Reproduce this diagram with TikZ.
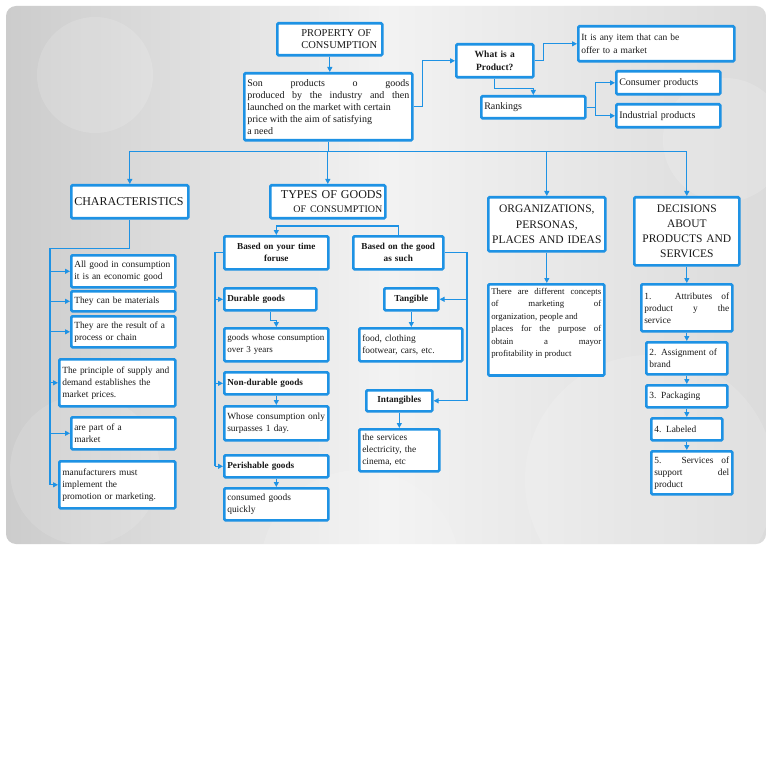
\documentclass[tikz,border=0pt]{standalone}
\usepackage{fontspec}
\setmainfont{Liberation Serif}
\usetikzlibrary{arrows.meta,shadows,calc}
\definecolor{bblue}{RGB}{30,146,228}
\definecolor{txt}{RGB}{25,25,25}
\newcommand\fsz[2]{\fontsize{#1}{#2}\selectfont}
\tikzset{
  box/.style={draw=bblue, line width=2.6pt, fill=white, rounded corners=1.2pt,
    inner xsep=3pt, inner ysep=2pt, anchor=north west, align=left, text=txt,
    font=\fsz{9.4}{12},
    drop shadow={opacity=0.22, shadow xshift=0.9pt, shadow yshift=-0.9pt}},
  conn/.style={draw=bblue, line width=1.1pt},
  arr/.style={conn, -{Triangle[length=5pt,width=5pt]}},
  bld/.style={font=\bfseries\fsz{9.2}{12}},
}
\begin{document}
\begin{tikzpicture}[x=1pt,y=-1pt]
\path[use as bounding box] (0,0) rectangle (768,762);
\fill[white] (0,0) rectangle (768,762);
\shade[rounded corners=10pt, left color=gray!40, right color=gray!28, middle color=gray!10] (6,6) rectangle (766,544);
\begin{scope}
  \clip[rounded corners=10pt] (6,6) rectangle (766,544);
  \fill[white,opacity=0.14] (95,75) circle[radius=58pt];
  \fill[white,opacity=0.16] (725,140) circle[radius=62pt];
  \fill[white,opacity=0.14] (650,480) circle[radius=125pt];
  \fill[white,opacity=0.12] (85,470) circle[radius=75pt];
  \fill[white,opacity=0.12] (360,570) circle[radius=100pt];
\end{scope}

% ---------- top ----------
\node[box, minimum width=105pt, minimum height=32pt, text width=99pt, font=\fsz{10.5}{12.5}] (prop) at (276,22)
  {\hspace*{21pt}PROPERTY OF\\\hspace*{21pt}CONSUMPTION};
\node[box, minimum width=168pt, minimum height=67pt, text width=162pt, align=justify, font=\fsz{10}{12}] (son) at (243,72)
  {Son products o goods\linebreak produced by the industry and then\linebreak launched on the market with certain\newline price with the aim of satisfying\newline a need};
\node[box, minimum width=77pt, minimum height=33pt, text width=71pt, align=center, font=\bfseries\fsz{9.5}{13}] (what) at (455,43)
  {What is a\\Product?};
\node[box, minimum width=156pt, minimum height=35pt, text width=150pt, font=\fsz{9.5}{12.5}] (item) at (577,25)
  {It is any item that can be\\offer to a market};
\node[box, minimum width=104pt, minimum height=22pt, text width=98pt, font=\fsz{10}{12}] (rank) at (480,95) {Rankings};
\node[box, minimum width=104pt, minimum height=23pt, text width=98pt, font=\fsz{10}{12}] (cons) at (615,70) {Consumer products};
\node[box, minimum width=104pt, minimum height=23pt, text width=98pt, font=\fsz{10}{12}] (ind) at (615,103) {Industrial products};

% ---------- level 2 ----------
\node[box, minimum width=117pt, minimum height=33pt, text width=111pt, font=\fsz{12}{14}] (char) at (70,184) {CHARACTERISTICS};
\node[box, minimum width=115pt, minimum height=33pt, text width=109pt, align=right, font=\fsz{12}{14}] (types) at (269,184)
  {TYPES OF GOODS\\{\fsz{10}{14}OF CONSUMPTION}};
\node[box, minimum width=117pt, minimum height=54pt, text width=111pt, align=center, font=\fsz{11.5}{15.5}] (org) at (487,196)
  {ORGANIZATIONS,\\PERSONAS,\\PLACES AND IDEAS};
\node[box, minimum width=105pt, minimum height=68pt, text width=99pt, align=center, font=\fsz{11.5}{15.2}] (dec) at (633,196)
  {DECISIONS\\ABOUT\\PRODUCTS AND\\SERVICES};

% ---------- characteristics ----------
\node[box, minimum width=104pt, minimum height=32pt, text width=98pt] (c1) at (70,254) {All good in consumption\\it is an economic good};
\node[box, minimum width=104pt, minimum height=20pt, text width=98pt] (c2) at (70,290) {They can be materials};
\node[box, minimum width=104pt, minimum height=31pt, text width=98pt] (c3) at (70,315) {They are the result of a\\process or chain};
\node[box, minimum width=116pt, minimum height=47pt, text width=110pt] (c4) at (58,358) {The principle of supply and\\demand establishes the\\market prices.};
\node[box, minimum width=104pt, minimum height=32pt, text width=98pt] (c5) at (70,416) {are part of a\\market};
\node[box, minimum width=116pt, minimum height=47pt, text width=110pt] (c6) at (58,460) {manufacturers must\\implement the\\promotion or marketing.};

% ---------- types of goods ----------
\node[box, minimum width=104pt, minimum height=33pt, text width=98pt, align=center, bld] (t1) at (223,235) {Based on your time\\foruse};
\node[box, minimum width=90pt, minimum height=33pt, text width=84pt, align=center, bld] (t2) at (352,235) {Based on the good\\as such};
\node[box, minimum width=92pt, minimum height=22pt, text width=86pt, bld] (d1) at (223,287) {Durable goods};
\node[box, minimum width=104pt, minimum height=33pt, text width=98pt, font=\fsz{9}{12}] (d1t) at (223,327) {goods whose consumption\\over 3 years};
\node[box, minimum width=104pt, minimum height=22pt, text width=98pt, bld] (d2) at (223,371) {Non-durable goods};
\node[box, minimum width=104pt, minimum height=34pt, text width=98pt] (d2t) at (223,405) {Whose consumption only\\surpasses 1 day.};
\node[box, minimum width=104pt, minimum height=22pt, text width=98pt, bld] (d3) at (223,454) {Perishable goods};
\node[box, minimum width=104pt, minimum height=32pt, text width=98pt] (d3t) at (223,487) {consumed goods\\quickly};
\node[box, minimum width=54pt, minimum height=22pt, text width=48pt, align=center, bld] (g1) at (383,287) {Tangible};
\node[box, minimum width=103pt, minimum height=33pt, text width=97pt] (g1t) at (358,327) {food, clothing\\footwear, cars, etc.};
\node[box, minimum width=66pt, minimum height=21pt, text width=60pt, align=center, bld] (g2) at (365,389) {Intangibles};
\node[box, minimum width=80pt, minimum height=42pt, text width=74pt] (g2t) at (358,428) {the services\\electricity, the\\cinema, etc};

% ---------- organizations ----------
\node[box, minimum width=116pt, text width=110pt, align=justify, font=\fsz{8.8}{12.5}, inner ysep=4pt, text depth=77pt] (orgt) at (487,283)
  {There are different concepts\linebreak of marketing of\linebreak organization, people and\newline places for the purpose of\linebreak obtain a mayor\linebreak profitability in product};

% ---------- decisions ----------
\node[box, minimum width=91pt, minimum height=47pt, text width=85pt, align=justify] (e1) at (640,283)
  {1. Attributes of\linebreak product y the\linebreak service};
\node[box, minimum width=81pt, minimum height=32pt, text width=75pt] (e2) at (645,341) {2. Assignment of\\brand};
\node[box, minimum width=81pt, minimum height=22pt, text width=75pt] (e3) at (645,384) {3. Packaging};
\node[box, minimum width=71pt, minimum height=22pt, text width=65pt] (e4) at (650,417) {4. Labeled};
\node[box, minimum width=81pt, minimum height=43pt, text width=75pt, align=justify] (e5) at (650,450)
  {5. Services of\linebreak support del\linebreak product};

% ---------- connectors: top ----------
\draw[arr] (prop.south) -- (prop.south |- son.north);
\draw[arr] (son.east) -- ++(9,0) |- (what.west);
\draw[arr] (what.east) -- ++(9,0) |- (item.west);
\draw[arr] (what.south) -- ++(0,10) -| (rank.north);
\draw[conn] (rank.east) -- ++(9,0) coordinate (rk);
\draw[arr] (rk) |- (cons.west);
\draw[arr] (rk) |- (ind.west);
\draw[conn] (son.south) -- ++(0,10) coordinate (bus);
\draw[arr] (bus) -| (char.north);
\draw[arr] (bus) -| (types.north);
\draw[arr] (bus) -| (org.north);
\draw[arr] (bus) -| (dec.north);

% ---------- characteristics spine ----------
\coordinate (cspine) at (50,0);
\draw[conn] (char.south) -- ++(0,29) -| (c6.west -| cspine);
\foreach \n in {c1,c2,c3,c4,c5,c6}
  \draw[arr] (\n.west -| cspine) -- (\n.west);

% ---------- types ----------
\draw[arr] (t2.north) -- ++(0,-9) -| (t1.north);
\coordinate (tsp) at (215,0);
\draw[conn] (t1.west) -- (t1.west -| tsp) -- (d3.west -| tsp);
\foreach \n in {d1,d2,d3}
  \draw[arr] (\n.west -| tsp) -- (\n.west);
\draw[arr] (d1.south) -- ++(0,9) -| (d1t.north);
\draw[arr] (d2.south) -- (d2.south |- d2t.north);
\draw[arr] (d3.south) -- (d3.south |- d3t.north);
\coordinate (gsp) at (467,0);
\draw[conn] (t2.east) -- (t2.east -| gsp) -- (g2.east -| gsp);
\foreach \n in {g1,g2}
  \draw[arr] (\n.east -| gsp) -- (\n.east);
\draw[arr] (g1.south) -- (g1.south |- g1t.north);
\draw[arr] (g2.south) -- (g2.south |- g2t.north);

% ---------- organizations / decisions ----------
\draw[arr] (org.south) -- (org.south |- orgt.north);
\draw[arr] (dec.south) -- (dec.south |- e1.north);
\draw[arr] (e1.south) -- (e1.south |- e2.north);
\draw[arr] (e2.south) -- (e2.south |- e3.north);
\draw[arr] (e3.south) -- (e3.south |- e4.north);
\draw[arr] (e4.south) -- (e4.south |- e5.north);
\end{tikzpicture}
\end{document}
